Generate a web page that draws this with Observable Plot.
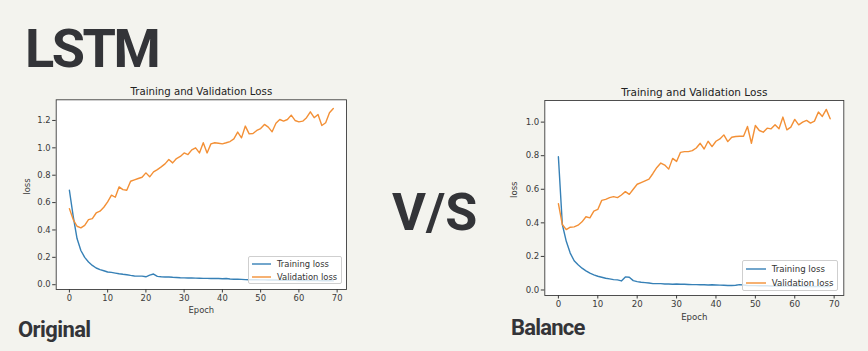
<!DOCTYPE html>
<html>
<head>
<meta charset="utf-8">
<script src="https://cdn.jsdelivr.net/npm/d3@7"></script>
<script src="https://cdn.jsdelivr.net/npm/@observablehq/plot@0.6"></script>
<style>
  html, body { margin: 0; padding: 0; }
  body { width: 868px; height: 351px; background: #f3f3ee; position: relative; overflow: hidden; }
  .big { position: absolute; font-family: Roboto, sans-serif; font-weight: 700; color: #333438; line-height: 1; white-space: nowrap; }
  .chart { position: absolute; }
  .legend { position: absolute; background: rgba(255,255,255,0.8); border: 0.8px solid #cfcfcf; border-radius: 2px; box-sizing: border-box; }
  .legend .row { position: absolute; left: 0; right: 0; height: 12px; }
  .legend .row svg { position: absolute; top: 0; }
  .legend .row span { position: absolute; top: 0; line-height: 12px; font-family: "DejaVu Sans", sans-serif; color: #333; white-space: nowrap; }
</style>
</head>
<body>
<div class="big" id="title" style="left:25px; top:21.6px; font-size:54px; letter-spacing:-2.5px;">LSTM</div>
<div class="big" id="vs" style="left:392px; top:186.5px; font-size:52px; letter-spacing:0px;">V/S</div>
<div class="big" id="cap1" style="left:18px; top:318.5px; font-size:22px; letter-spacing:-0.6px;">Original</div>
<div class="big" id="cap2" style="left:511px; top:316.5px; font-size:22px; letter-spacing:-0.8px;">Balance</div>
<div id="left" class="chart" style="left:0px; top:80px;"></div>
<div id="right" class="chart" style="left:490px; top:80px;"></div>
<script>
// ---- data ----
const seriesNames = ["Training loss", "Validation loss"];
const seriesColors = ["#3680b6", "#f39036"];
const chartTitle = "Training and Validation Loss";
const xLabel = "Epoch";
const yLabel = "loss";
const xTicks = [0, 10, 20, 30, 40, 50, 60, 70];
const yTicksOriginal = [0, 0.2, 0.4, 0.6, 0.8, 1.0, 1.2];
const yTicksBalance = [0, 0.2, 0.4, 0.6, 0.8, 1.0];

const originalTrain = [0.69,0.50,0.337,0.25,0.2,0.166,0.141,0.122,0.11,0.102,
  0.093,0.09,0.085,0.08,0.076,0.073,0.068,0.064,0.063,0.063,
  0.058,0.07,0.078,0.061,0.058,0.056,0.056,0.054,0.053,0.051,
  0.05,0.049,0.05,0.048,0.047,0.046,0.046,0.045,0.045,0.045,
  0.044,0.045,0.042,0.04,0.041,0.039,0.037,0.036,0.037,0.036,
  0.035,0.035,0.034,0.034,0.035,0.033,0.033,0.032,0.032,0.033,
  0.031,0.031,0.030,0.031,0.030,0.030,0.029,0.030,0.029,0.028];
const originalVal = [0.556,0.476,0.427,0.415,0.434,0.476,0.483,0.524,0.537,0.566,
  0.605,0.654,0.639,0.715,0.695,0.69,0.756,0.766,0.776,0.785,
  0.817,0.788,0.824,0.841,0.861,0.883,0.915,0.89,0.922,0.937,
  0.963,0.951,0.985,1.0,0.963,1.037,0.963,1.029,1.037,1.034,
  1.029,1.037,1.046,1.066,1.115,1.073,1.159,1.102,1.105,1.127,
  1.141,1.171,1.151,1.117,1.18,1.207,1.195,1.207,1.239,1.2,
  1.19,1.195,1.22,1.263,1.22,1.244,1.163,1.183,1.256,1.288];
const balanceTrain = [0.794,0.39,0.29,0.22,0.174,0.15,0.13,0.114,0.1,0.09,
  0.082,0.076,0.07,0.066,0.062,0.06,0.054,0.078,0.076,0.056,
  0.05,0.046,0.044,0.042,0.038,0.038,0.038,0.036,0.036,0.034,
  0.036,0.034,0.034,0.033,0.032,0.032,0.031,0.031,0.03,0.031,
  0.03,0.029,0.028,0.027,0.027,0.028,0.032,0.03,0.027,0.026,
  0.026,0.025,0.025,0.025,0.024,0.024,0.024,0.023,0.023,0.023,
  0.022,0.022,0.022,0.021,0.021,0.021,0.021,0.02,0.02,0.02];
const balanceVal = [0.514,0.39,0.36,0.374,0.376,0.386,0.406,0.436,0.43,0.47,
  0.48,0.534,0.54,0.55,0.556,0.55,0.566,0.586,0.57,0.6,
  0.63,0.64,0.65,0.66,0.694,0.73,0.756,0.744,0.72,0.784,
  0.766,0.82,0.824,0.824,0.83,0.846,0.874,0.84,0.886,0.854,
  0.886,0.9,0.924,0.884,0.91,0.914,0.916,0.916,0.974,0.874,
  0.98,0.95,0.94,0.964,0.96,0.984,0.96,1.03,0.954,0.97,
  1.016,0.984,1.0,1.01,0.994,1.006,1.06,1.034,1.076,1.02];

// matplotlib-style autoscale (5% margins)
function padDomain(lo, hi) { const m = (hi - lo) * 0.05; return [lo - m, hi + m]; }

function makeChart(el, train, val, yTicks, cfg) {
  const n = train.length;
  const xDomain = padDomain(0, n - 1);
  const all = train.concat(val);
  const yDomain = padDomain(d3.min(all), d3.max(all));
  const font = "DejaVu Sans, sans-serif";
  const chart = Plot.plot({
    width: cfg.width,
    height: cfg.height,
    marginLeft: cfg.ml, marginRight: cfg.mr, marginTop: cfg.mt, marginBottom: cfg.mb,
    style: { background: "transparent", fontFamily: font, color: "#3a3a3a", overflow: "visible" },
    x: { domain: xDomain },
    y: { domain: yDomain },
    marks: [
      Plot.frame({ fill: "white", stroke: null }),
      Plot.line(train, { x: (d, i) => i, y: d => d, stroke: seriesColors[0], strokeWidth: 1.4 }),
      Plot.line(val, { x: (d, i) => i, y: d => d, stroke: seriesColors[1], strokeWidth: 1.4 }),
      Plot.frame({ stroke: "#3c3c3c", strokeWidth: 0.9 }),
      Plot.axisX({ ticks: xTicks, tickSize: 3.5, tickPadding: 2, label: null, fontSize: cfg.tick, tickFormat: d3.format("d") }),
      Plot.axisY({ ticks: yTicks, tickSize: 3.5, tickPadding: 2, label: null, fontSize: cfg.tick, tickFormat: d3.format(".1f") }),
      Plot.text([chartTitle], { frameAnchor: "top", lineAnchor: "middle", dy: cfg.titleDy, fontSize: cfg.titleSize, fill: "#222" }),
      Plot.text([xLabel], { frameAnchor: "bottom", lineAnchor: "middle", dy: cfg.xLabelDy, fontSize: cfg.tick, fill: "#3a3a3a" }),
      Plot.text([yLabel], { frameAnchor: "left", lineAnchor: "middle", dx: cfg.yLabelDx, rotate: -90, fontSize: cfg.tick, fill: "#3a3a3a" })
    ]
  });
  el.appendChild(chart);
}

function makeLegend(lg) {
  const box = document.createElement("div");
  box.className = "legend";
  Object.assign(box.style, { left: lg.left + "px", top: lg.top + "px", width: lg.w + "px", height: lg.h + "px" });
  seriesNames.forEach((name, i) => {
    const row = document.createElement("div");
    row.className = "row";
    row.style.top = (lg.row0 + i * lg.gap - 6) + "px";
    row.innerHTML = `<svg width="${lg.lineW}" height="12" style="left:${lg.lineX}px"><line x1="0" x2="${lg.lineW}" y1="6" y2="6" stroke="${seriesColors[i]}" stroke-width="1.4"/></svg><span style="left:${lg.textX}px; font-size:${lg.font}px">${name}</span>`;
    box.appendChild(row);
  });
  document.body.appendChild(box);
}

makeChart(document.getElementById("left"), originalTrain, originalVal, yTicksOriginal,
  { width: 360, height: 240, ml: 55.7, mr: 14, mt: 19.3, mb: 31, tick: 8.4, titleSize: 10.2, titleDy: -8.3, xLabelDy: 21, yLabelDx: -28.7 });
makeChart(document.getElementById("right"), balanceTrain, balanceVal, yTicksBalance,
  { width: 370, height: 240, ml: 54.3, mr: 16.7, mt: 20, mb: 25, tick: 8.6, titleSize: 10.5, titleDy: -8.3, xLabelDy: 22, yLabelDx: -31 });

makeLegend({ left: 248.3, top: 255.7, w: 93.4, h: 28.3, row0: 7.3, gap: 13, lineX: 2.4, lineW: 19.3, textX: 27.7, font: 8.4 });
makeLegend({ left: 742.3, top: 260, w: 96, h: 30.7, row0: 8.3, gap: 13.4, lineX: 2.7, lineW: 20, textX: 28.4, font: 8.6 });
</script>
</body>
</html>
